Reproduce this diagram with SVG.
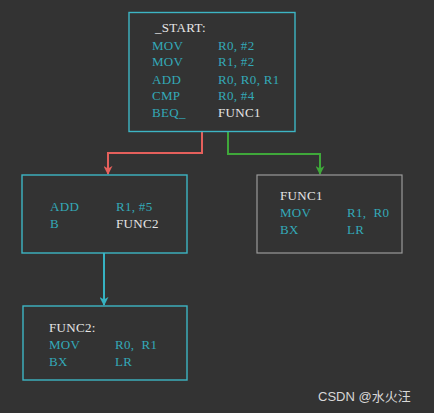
<svg xmlns="http://www.w3.org/2000/svg" width="434" height="413" viewBox="0 0 434 413">
<style>
.box{fill:none;stroke:#3db5c4;stroke-width:1.4}
.box2{fill:none;stroke:#9a9a9a;stroke-width:1.2}
.t{font-family:"Liberation Serif","DejaVu Serif",serif;font-size:13px;fill:#33a9b8;letter-spacing:0.3px}
.w{fill:#e6e6e6}
.wm{font-family:"Liberation Sans","Noto Sans CJK SC",sans-serif;font-size:13px;fill:#d8d8d8}
</style>
<defs>
<marker id="ar" viewBox="0 0 10 10" refX="9" refY="5" markerWidth="4.5" markerHeight="4.5" orient="auto" markerUnits="strokeWidth"><path d="M0,0 L10,5 L0,10 L3,5 z" fill="#e5605c"/></marker>
<marker id="ag" viewBox="0 0 10 10" refX="9" refY="5" markerWidth="4.5" markerHeight="4.5" orient="auto" markerUnits="strokeWidth"><path d="M0,0 L10,5 L0,10 L3,5 z" fill="#3fa83a"/></marker>
<marker id="ab" viewBox="0 0 10 10" refX="9" refY="5" markerWidth="4.5" markerHeight="4.5" orient="auto" markerUnits="strokeWidth"><path d="M0,0 L10,5 L0,10 L3,5 z" fill="#36b2c2"/></marker>
</defs>
<rect width="434" height="413" fill="#333333"/>
<g id="connectors" fill="none" stroke-width="2">
<path d="M202,132 V153 H108 V174" stroke="#e5605c" marker-end="url(#ar)"/>
<path d="M228,132 V154 H320 V174" stroke="#3fa83a" marker-end="url(#ag)"/>
<path d="M104,253 V305" stroke="#36b2c2" marker-end="url(#ab)"/>
</g>
<g id="start">
<rect class="box" x="129" y="12.5" width="166" height="119"/>
<text class="t w" x="155" y="32">_START:</text>
<text class="t" x="152" y="50">MOV</text><text class="t" x="218" y="50">R0, #2</text>
<text class="t" x="152" y="66">MOV</text><text class="t" x="218" y="66">R1, #2</text>
<text class="t" x="152" y="84">ADD</text><text class="t" x="218" y="84">R0, R0, R1</text>
<text class="t" x="152" y="100">CMP</text><text class="t" x="218" y="100">R0, #4</text>
<text class="t" x="152" y="117">BEQ_</text><text class="t w" x="218" y="117">FUNC1</text>
</g>
<g id="add">
<rect class="box" x="22" y="175" width="165" height="78"/>
<text class="t" x="50" y="211">ADD</text><text class="t" x="116" y="211">R1, #5</text>
<text class="t" x="50" y="228">B</text><text class="t w" x="116" y="228">FUNC2</text>
</g>
<g id="func1">
<rect class="box2" x="257" y="175" width="145" height="78"/>
<text class="t w" x="280" y="200">FUNC1</text>
<text class="t" x="280" y="217">MOV</text><text class="t" x="347" y="217" xml:space="preserve">R1,  R0</text>
<text class="t" x="280" y="234">BX</text><text class="t" x="347" y="234">LR</text>
</g>
<g id="func2">
<rect class="box" x="23" y="306" width="164" height="74"/>
<text class="t w" x="49" y="332">FUNC2:</text>
<text class="t" x="49" y="349">MOV</text><text class="t" x="115" y="349" xml:space="preserve">R0,  R1</text>
<text class="t" x="49" y="366">BX</text><text class="t" x="115" y="366">LR</text>
</g>
<text class="wm" x="318" y="401">CSDN @水火汪</text>
</svg>
